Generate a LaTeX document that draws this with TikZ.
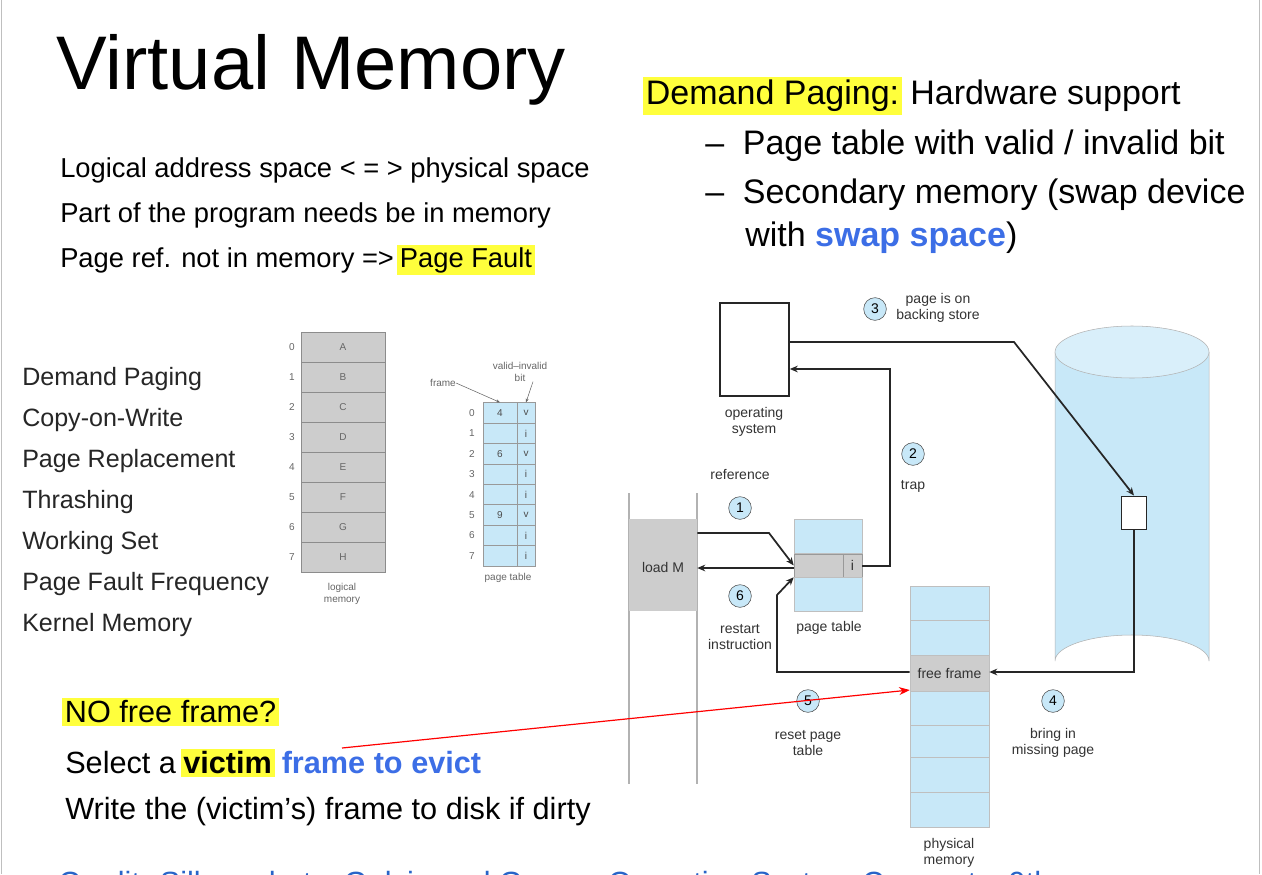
\documentclass[tikz,border=0pt]{standalone}
\usepackage{fontspec}
\setmainfont{Liberation Sans}
\usetikzlibrary{arrows.meta}
\definecolor{hlyellow}{RGB}{255,255,60}
\definecolor{swapblue}{RGB}{60,110,230}
\definecolor{cellblue}{RGB}{200,232,248}
\definecolor{cellgray}{RGB}{205,205,205}
\definecolor{credblue}{RGB}{40,100,200}
\tikzset{
  big/.style={font=\fontsize{25.5}{30}\selectfont, anchor=west, inner sep=0pt},
  mid/.style={font=\fontsize{20.5}{24}\selectfont, anchor=west, inner sep=0pt},
  lst/.style={font=\fontsize{18.8}{22}\selectfont, anchor=west, inner sep=0pt, text=black!85},
  bot/.style={font=\fontsize{23}{27}\selectfont, anchor=west, inner sep=0pt},
  hl/.style={fill=hlyellow, inner sep=2pt},
  lbl/.style={font=\fontsize{10.5}{11.5}\selectfont, align=center, inner sep=0pt, text=black!80},
  tiny/.style={font=\fontsize{7.5}{8.5}\selectfont, align=center, inner sep=0pt, text=black!60},
  stepc/.style={circle, draw=black!70, fill=cellblue, inner sep=0.5pt, minimum size=17pt, font=\fontsize{10.5}{11}\selectfont},
  arr/.style={-{Stealth[length=6pt,width=5pt]}, line width=1.3pt, black!85},
  pcell/.style={draw=black!40, fill=cellblue, line width=0.6pt},
}
\begin{document}
\begin{tikzpicture}[x=0.75pt,y=-0.75pt]
\useasboundingbox (0,0) rectangle (1262,874);
\fill[white] (0,0) rectangle (1262,874);
\draw[black!25] (1,0) -- (1,874);
\draw[black!25] (1259,0) -- (1259,874);

% title and header text
\node[anchor=west, inner sep=0pt, font=\fontsize{57}{64}\selectfont] (title) at (56,70) {Virtual Memory};
\node[big, hl] (dp) at (643,96) {Demand Paging:};
\node[big, anchor=base west] (hw) at ([xshift=6pt]dp.base east) {Hardware support};
\node[big] (b1) at (705,146) {–\hspace{0.55em}Page table with valid / invalid bit};
\node[big] (b2) at (705,195) {–\hspace{0.55em}Secondary memory (swap device};
\node[big] (b3) at (745,238) {with \textbf{\textcolor{swapblue}{swap space}})};

\node[mid] (l1) at (60,170) {Logical address space < = > physical space};
\node[mid] (l2) at (60,215) {Part of the program needs be in memory};
\node[mid] (l3) at (60,260) {Page ref. not in memory => };
\node[mid, hl, anchor=base west] (pf) at ([xshift=2pt]l3.base east) {Page Fault};

% topic list
\foreach \t [count=\i] in {Demand Paging,Copy-on-Write,Page Replacement,Thrashing,Working Set,Page Fault Frequency,Kernel Memory}
  \node[lst] (list\i) at (22,{338+41*\i}) {\t};

% logical memory
\foreach \t [count=\i from 0] in {A,B,C,D,E,F,G,H} {
  \node[draw=black!45, fill=cellgray, minimum width=63pt, minimum height=22.5pt, inner sep=0pt,
        font=\fontsize{7.5}{8.5}\selectfont, text=black!60] (lm\i) at (343,{347+30*\i}) {\t};
  \node[tiny] (ln\i) at (292,{347+30*\i}) {\i};
}
\node[tiny] (lml) at (342,594) {logical\\memory};

% small page table
\foreach \f/\b [count=\i from 0] in {4/v,/i,6/v,/i,/i,9/v,/i,/i} {
  \node[pcell, minimum width=25.5pt, minimum height=15.3pt, inner sep=0pt, tiny, text=black!70] (pf\i) at (500,{413+20.4*\i}) {\f};
  \node[pcell, minimum width=13.5pt, minimum height=15.3pt, inner sep=0pt, tiny, text=black!70] (pb\i) at (526,{413+20.4*\i}) {\b};
  \node[tiny] (pn\i) at (472,{413+20.4*\i}) {\i};
}
\node[tiny] (frl) at (443,383) {frame};
\node[tiny] (vil) at (520,372) {valid–invalid\\bit};
\draw[-{Stealth[length=3pt]}, black!60] (frl.east) -- (pf0.north);
\draw[-{Stealth[length=3pt]}, black!60] (vil.south) ++(13,0) -- (pb0.north);
\node[tiny] (ptl) at (508,578) {page table};

% right diagram: operating system
\node[draw=black!85, line width=1.2pt, minimum width=51.75pt, minimum height=69.75pt, inner sep=0pt] (os) at (754.5,349.5) {};
\node[lbl] (osl) at (754,422) {operating\\system};
\node[stepc] (s3) at (875,309) {3};
\node[lbl] (s3l) at (938,308) {page is on\\backing store};

% backing store cylinder
\fill[cellblue] (1055,352) -- (1055,661) arc[start angle=180, end angle=360, x radius=77, y radius=26] -- (1209,352) -- cycle;
\draw[black!30] (1055,352) -- (1055,661) arc[start angle=180, end angle=360, x radius=77, y radius=26] -- (1209,352);
\draw[black!30, fill=cellblue!70] (1132,352) ellipse[x radius=77, y radius=26];
\node[draw=black!85, fill=white, line width=1.2pt, minimum width=19pt, minimum height=25pt, inner sep=0pt] (sq) at (1134,513) {};

% load M and process
\draw[black!30, line width=1pt] (629,493) -- (629,784);
\draw[black!30, line width=1pt] (697,493) -- (697,784);
\node[fill=cellgray, minimum width=51pt, minimum height=69pt, inner sep=0pt] (ld) at (663,565) {};
\node[lbl] (ldl) at (663,567) {load M};

% page table on the right
\node[pcell, draw=black!25, minimum width=51pt, minimum height=26pt, inner sep=0pt] (pt1) at (828,536.5) {};
\node[draw=black!40, fill=cellgray, minimum width=36.75pt, minimum height=17.25pt, inner sep=0pt] (pt2) at (818.5,565.5) {};
\node[draw=black!40, fill=cellgray, minimum width=14.25pt, minimum height=17.25pt, inner sep=0pt, lbl] (pti) at (852.5,565.5) {i};
\node[pcell, draw=black!25, minimum width=51pt, minimum height=25pt, inner sep=0pt] (pt3) at (828,594.5) {};
\node[lbl] (ptr) at (829,628) {page table};

% physical memory
\foreach \ya/\yb [count=\i] in {586/620,620/655,655/691,691/725,725/757,757/792,792/827} {
  \node[pcell, draw=black!25, minimum width=59.25pt, minimum height={(\yb-\ya)*0.75pt}, inner sep=0pt] (pm\i) at (949.5,{(\ya+\yb)/2}) {};
}
\node[fill=cellgray, draw=black!25, minimum width=59.25pt, minimum height=27pt, inner sep=0pt, lbl] (ff) at (949.5,673) {free frame};
\node[lbl] (pml) at (949,853) {physical\\memory};

% steps
\node[stepc] (s1) at (740,508) {1};
\node[lbl] (s1l) at (740,474) {reference};
\node[stepc] (s2) at (913,454) {2};
\node[lbl] (s2l) at (913,486) {trap};
\node[stepc] (s6) at (740,596) {6};
\node[lbl] (s6l) at (740,637) {restart\\instruction};
\node[stepc] (s5) at (808,701) {5};
\node[lbl] (s5l) at (808,743) {reset page\\table};
\node[stepc] (s4) at (1053,701) {4};
\node[lbl] (s4l) at (1053,743) {bring in\\missing page};

% connectors
\coordinate (c1) at (769,533);
\draw[arr] (ld.east |- c1) -- (c1) -- (pt2.west);
\draw[arr] (pt2.west |- 0,568) -- (ld.east |- 0,568);
\coordinate (t1) at (890,566);
\coordinate (t2) at (890,369);
\draw[arr] (pti.east |- t1) -- (t1) -- (t2) -- (os.east |- t2);
\coordinate (d1) at (1014,342);
\draw[arr] (os.east |- d1) -- (d1) -- (sq.north);
\coordinate (b1c) at (1134,672);
\draw[arr] (sq.south) -- (b1c) -- (ff.east |- b1c);
\coordinate (r1) at (777,672);
\coordinate (r2) at (777,595);
\draw[arr] (ff.west |- r1) -- (r1) -- (r2) -- (pt2.south west);

% bottom left text
\node[bot, hl] (nf) at (62,712) {NO free frame?};
\node[bot] (sel) at (65,763) {Select a };
\node[bot, hl, anchor=base west, font=\fontsize{23}{27}\selectfont\bfseries] (vic) at ([xshift=3pt]sel.base east) {victim};
\node[bot, anchor=base west, font=\fontsize{23}{27}\selectfont\bfseries, text=swapblue] (fte) at ([xshift=5pt]vic.base east) {frame to evict};
\node[bot] (wr) at (65,812) {Write the (victim’s) frame to disk if dirty};
\coordinate (rf) at (342,748);
\draw[red, line width=0.9pt, -{Stealth[length=8pt,width=6pt]}] (rf) -- (ff.west |- 0,690);

% credit line, cut by the page edge
\node[bot, text=credblue] (cred) at (58,886) {Credit: Silberschatz, Galvin and Gagne, Operating System Concepts, 9th};
\end{tikzpicture}
\end{document}
